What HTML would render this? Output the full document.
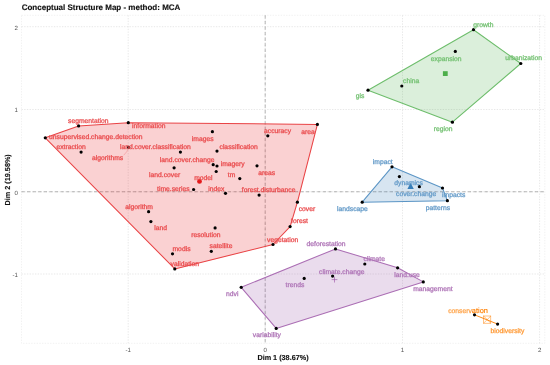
<!DOCTYPE html>
<html><head><meta charset="utf-8"><title>Conceptual Structure Map - method: MCA</title>
<style>
html,body{margin:0;padding:0;background:#fff;}
body{width:550px;height:365px;overflow:hidden;font-family:"Liberation Sans",Arial,Helvetica,sans-serif;}
svg{display:block;}
svg text{font-family:"Liberation Sans",Arial,Helvetica,sans-serif;text-rendering:geometricPrecision;}
.lab{font-size:6.76px;stroke-width:0.28px;}
.tick{font-size:6.1px;fill:#555;}
.ttl{font-size:8.0px;font-weight:bold;fill:#111;stroke:#111;stroke-width:0.15px;}
.ax{font-size:7.25px;font-weight:bold;fill:#111;stroke:#111;stroke-width:0.12px;}
</style></head><body>
<svg width="550" height="365" viewBox="0 0 550 365">
<rect x="0" y="0" width="550" height="365" fill="#ffffff"/>
<rect x="21.5" y="15.3" width="523.3" height="328.0" fill="none" stroke="#ebebeb" stroke-width="0.7" stroke-dasharray="1.35 1.35"/>
<line x1="128.2" y1="15.3" x2="128.2" y2="343.3" stroke="#dedede" stroke-width="0.7" stroke-dasharray="1.35 1.35"/>
<line x1="265.2" y1="15.3" x2="265.2" y2="343.3" stroke="#dedede" stroke-width="0.7" stroke-dasharray="1.35 1.35"/>
<line x1="402.5" y1="15.3" x2="402.5" y2="343.3" stroke="#dedede" stroke-width="0.7" stroke-dasharray="1.35 1.35"/>
<line x1="539.6" y1="15.3" x2="539.6" y2="343.3" stroke="#dedede" stroke-width="0.7" stroke-dasharray="1.35 1.35"/>
<line x1="21.5" y1="26.7" x2="544.8" y2="26.7" stroke="#dedede" stroke-width="0.7" stroke-dasharray="1.35 1.35"/>
<line x1="21.5" y1="109.5" x2="544.8" y2="109.5" stroke="#dedede" stroke-width="0.7" stroke-dasharray="1.35 1.35"/>
<line x1="21.5" y1="191.75" x2="544.8" y2="191.75" stroke="#dedede" stroke-width="0.7" stroke-dasharray="1.35 1.35"/>
<line x1="21.5" y1="274.0" x2="544.8" y2="274.0" stroke="#dedede" stroke-width="0.7" stroke-dasharray="1.35 1.35"/>
<line x1="21.5" y1="191.75" x2="544.8" y2="191.75" stroke="#a2a2a2" stroke-width="0.8" stroke-dasharray="3.2 2.38"/>
<line x1="265.2" y1="15.3" x2="265.2" y2="343.3" stroke="#a2a2a2" stroke-width="0.8" stroke-dasharray="3.2 2.38"/>
<polygon points="45.3,137.8 78.6,125.9 128.3,122.7 317.4,124.4 297.4,202.2 290.1,226.6 273,244.5 174.8,268.9" fill="#E41A1C" fill-opacity="0.2" stroke="#E94345" stroke-width="1.05" stroke-linejoin="round"/>
<polygon points="368.0,90.2 473.5,29.7 520.8,63.5 452.4,122.2" fill="#4DAF4A" fill-opacity="0.2" stroke="#6DBD6B" stroke-width="1.05" stroke-linejoin="round"/>
<polygon points="362.2,202.2 392,166.8 442.5,188 447.4,200.7" fill="#377EB8" fill-opacity="0.2" stroke="#5B95C5" stroke-width="1.05" stroke-linejoin="round"/>
<polygon points="241.2,287.3 335.5,248.9 397.6,267.8 423.3,281.9 276.2,328.4" fill="#984EA3" fill-opacity="0.2" stroke="#AB6EB4" stroke-width="1.05" stroke-linejoin="round"/>
<line x1="474.5" y1="314.8" x2="497.6" y2="324.1" stroke="#FF7F00" stroke-width="0.9"/>
<path d="M128.6 147.3 Q127.5 152 123.7 155.2" fill="none" stroke="#E41A1C" stroke-width="0.35" stroke-opacity="0.6"/>
<circle cx="199.5" cy="181.4" r="2.4" fill="#E41A1C"/>
<rect x="442.9" y="71.2" width="4.8" height="4.8" fill="#4DAF4A"/>
<polygon points="410.6,182.7 407.4,188.9 413.8,188.9" fill="#377EB8"/>
<path d="M331.6 279.6H337.4M334.5 276.7V282.5" stroke="#984EA3" stroke-width="0.6" fill="none"/>
<g stroke="#FF7F00" stroke-width="0.55" stroke-opacity="0.85" fill="none"><rect x="483.6" y="316" width="7.2" height="7.2"/><path d="M483.6 316L490.8 323.2M490.8 316L483.6 323.2"/></g>
<circle cx="78.6" cy="125.9" r="1.6" fill="#000"/>
<circle cx="128.3" cy="122.7" r="1.6" fill="#000"/>
<circle cx="45.3" cy="137.8" r="1.6" fill="#000"/>
<circle cx="81.1" cy="152.1" r="1.6" fill="#000"/>
<circle cx="128.6" cy="147.3" r="1.6" fill="#000"/>
<circle cx="180.4" cy="152.1" r="1.6" fill="#000"/>
<circle cx="212.4" cy="131.7" r="1.6" fill="#000"/>
<circle cx="217" cy="151.1" r="1.6" fill="#000"/>
<circle cx="174.1" cy="167.8" r="1.6" fill="#000"/>
<circle cx="213.2" cy="164.7" r="1.6" fill="#000"/>
<circle cx="217" cy="166" r="1.6" fill="#000"/>
<circle cx="216.2" cy="171.5" r="1.6" fill="#000"/>
<circle cx="239.8" cy="178.6" r="1.6" fill="#000"/>
<circle cx="193.6" cy="189.5" r="1.6" fill="#000"/>
<circle cx="225.5" cy="193.3" r="1.6" fill="#000"/>
<circle cx="317.4" cy="124.4" r="1.6" fill="#000"/>
<circle cx="267.8" cy="135.8" r="1.6" fill="#000"/>
<circle cx="257" cy="165.8" r="1.6" fill="#000"/>
<circle cx="259.1" cy="195.1" r="1.6" fill="#000"/>
<circle cx="297.4" cy="202.2" r="1.6" fill="#000"/>
<circle cx="290.1" cy="226.6" r="1.6" fill="#000"/>
<circle cx="273" cy="244.5" r="1.6" fill="#000"/>
<circle cx="148.6" cy="211.7" r="1.6" fill="#000"/>
<circle cx="150.9" cy="221.6" r="1.6" fill="#000"/>
<circle cx="215.1" cy="227.9" r="1.6" fill="#000"/>
<circle cx="172.5" cy="253.8" r="1.6" fill="#000"/>
<circle cx="211.3" cy="251.3" r="1.6" fill="#000"/>
<circle cx="174.8" cy="268.9" r="1.6" fill="#000"/>
<circle cx="368.0" cy="90.2" r="1.6" fill="#000"/>
<circle cx="401.8" cy="86" r="1.6" fill="#000"/>
<circle cx="455.3" cy="51.4" r="1.6" fill="#000"/>
<circle cx="473.5" cy="29.7" r="1.6" fill="#000"/>
<circle cx="520.8" cy="63.5" r="1.6" fill="#000"/>
<circle cx="452.4" cy="122.2" r="1.6" fill="#000"/>
<circle cx="392" cy="166.8" r="1.6" fill="#000"/>
<circle cx="399.4" cy="176.6" r="1.6" fill="#000"/>
<circle cx="419.4" cy="186.7" r="1.6" fill="#000"/>
<circle cx="442.5" cy="188" r="1.6" fill="#000"/>
<circle cx="447.4" cy="200.7" r="1.6" fill="#000"/>
<circle cx="362.2" cy="202.2" r="1.6" fill="#000"/>
<circle cx="335.5" cy="248.9" r="1.6" fill="#000"/>
<circle cx="364.8" cy="264" r="1.6" fill="#000"/>
<circle cx="397.6" cy="267.8" r="1.6" fill="#000"/>
<circle cx="423.3" cy="281.9" r="1.6" fill="#000"/>
<circle cx="332.6" cy="276.1" r="1.6" fill="#000"/>
<circle cx="304.2" cy="278.4" r="1.6" fill="#000"/>
<circle cx="241.2" cy="287.3" r="1.6" fill="#000"/>
<circle cx="276.2" cy="328.4" r="1.6" fill="#000"/>
<circle cx="474.5" cy="314.8" r="1.6" fill="#000"/>
<circle cx="497.6" cy="324.1" r="1.6" fill="#000"/>
<text class="lab" x="68" y="123.3" fill="#EA4C4E" stroke="#EA4C4E">segmentation</text>
<text class="lab" x="132.1" y="127.6" fill="#EA4C4E" stroke="#EA4C4E">information</text>
<text class="lab" x="49.1" y="138.9" fill="#EA4C4E" stroke="#EA4C4E">unsupervised.change.detection</text>
<text class="lab" x="56.4" y="149.0" fill="#EA4C4E" stroke="#EA4C4E">extraction</text>
<text class="lab" x="92.1" y="159.8" fill="#EA4C4E" stroke="#EA4C4E">algorithms</text>
<text class="lab" x="119.9" y="149.0" fill="#EA4C4E" stroke="#EA4C4E">land.cover.classification</text>
<text class="lab" x="191.8" y="140.7" fill="#EA4C4E" stroke="#EA4C4E">images</text>
<text class="lab" x="219.5" y="148.5" fill="#EA4C4E" stroke="#EA4C4E">classification</text>
<text class="lab" x="159.8" y="162.1" fill="#EA4C4E" stroke="#EA4C4E">land.cover.change</text>
<text class="lab" x="220.7" y="165.9" fill="#EA4C4E" stroke="#EA4C4E">imagery</text>
<text class="lab" x="149" y="176.7" fill="#EA4C4E" stroke="#EA4C4E">land.cover</text>
<text class="lab" x="194.2" y="180.0" fill="#EA4C4E" stroke="#EA4C4E">model</text>
<text class="lab" x="227.8" y="176.7" fill="#EA4C4E" stroke="#EA4C4E">tm</text>
<text class="lab" x="157" y="190.6" fill="#EA4C4E" stroke="#EA4C4E">time.series</text>
<text class="lab" x="208.2" y="190.6" fill="#EA4C4E" stroke="#EA4C4E">index</text>
<text class="lab" x="264" y="133.1" fill="#EA4C4E" stroke="#EA4C4E">accuracy</text>
<text class="lab" x="301.3" y="133.9" fill="#EA4C4E" stroke="#EA4C4E">area</text>
<text class="lab" x="258.2" y="174.9" fill="#EA4C4E" stroke="#EA4C4E">areas</text>
<text class="lab" x="241.8" y="191.9" fill="#EA4C4E" stroke="#EA4C4E">forest.disturbance</text>
<text class="lab" x="125.2" y="208.6" fill="#EA4C4E" stroke="#EA4C4E">algorithm</text>
<text class="lab" x="154.2" y="230.3" fill="#EA4C4E" stroke="#EA4C4E">land</text>
<text class="lab" x="191.2" y="237.1" fill="#EA4C4E" stroke="#EA4C4E">resolution</text>
<text class="lab" x="172.5" y="250.9" fill="#EA4C4E" stroke="#EA4C4E">modis</text>
<text class="lab" x="209.6" y="248.4" fill="#EA4C4E" stroke="#EA4C4E">satellite</text>
<text class="lab" x="170.5" y="266.3" fill="#EA4C4E" stroke="#EA4C4E">validation</text>
<text class="lab" x="298.7" y="211.4" fill="#EA4C4E" stroke="#EA4C4E">cover</text>
<text class="lab" x="291.1" y="223.2" fill="#EA4C4E" stroke="#EA4C4E">forest</text>
<text class="lab" x="267" y="241.8" fill="#EA4C4E" stroke="#EA4C4E">vegetation</text>
<text class="lab" x="473.2" y="26.8" fill="#74C172" stroke="#74C172">growth</text>
<text class="lab" x="430.8" y="60.8" fill="#74C172" stroke="#74C172">expansion</text>
<text class="lab" x="505.2" y="60.3" fill="#74C172" stroke="#74C172">urbanization</text>
<text class="lab" x="403" y="83.0" fill="#74C172" stroke="#74C172">china</text>
<text class="lab" x="355.7" y="98.2" fill="#74C172" stroke="#74C172">gis</text>
<text class="lab" x="433.8" y="130.9" fill="#74C172" stroke="#74C172">region</text>
<text class="lab" x="372.8" y="163.8" fill="#639AC8" stroke="#639AC8">impact</text>
<text class="lab" x="394.3" y="185.2" fill="#639AC8" stroke="#639AC8">dynamics</text>
<text class="lab" x="396" y="196.1" fill="#639AC8" stroke="#639AC8">cover.change</text>
<text class="lab" x="442.1" y="197.3" fill="#639AC8" stroke="#639AC8">impacts</text>
<text class="lab" x="425.7" y="209.9" fill="#639AC8" stroke="#639AC8">patterns</text>
<text class="lab" x="337" y="210.9" fill="#639AC8" stroke="#639AC8">landscape</text>
<text class="lab" x="306.5" y="245.7" fill="#AF75B7" stroke="#AF75B7">deforestation</text>
<text class="lab" x="363.6" y="260.9" fill="#AF75B7" stroke="#AF75B7">climate</text>
<text class="lab" x="319.1" y="273.5" fill="#AF75B7" stroke="#AF75B7">climate.change</text>
<text class="lab" x="394.3" y="277.0" fill="#AF75B7" stroke="#AF75B7">land.use</text>
<text class="lab" x="413.2" y="291.1" fill="#AF75B7" stroke="#AF75B7">management</text>
<text class="lab" x="285.6" y="287.1" fill="#AF75B7" stroke="#AF75B7">trends</text>
<text class="lab" x="226.1" y="296.0" fill="#AF75B7" stroke="#AF75B7">ndvi</text>
<text class="lab" x="252.8" y="337.1" fill="#AF75B7" stroke="#AF75B7">variability</text>
<text class="lab" x="490.6" y="333.3" fill="#FF9B38" stroke="#FF9B38">biodiversity</text>
<text class="lab" x="448.2" y="313.2" fill="#FFA54C" stroke="#FFA54C">conserv<tspan font-size="7.4px" fill="#FF7F00" stroke="#FF7F00" stroke-width="0.15">ation</tspan></text>
<text class="tick" x="17.8" y="29.5" text-anchor="end">2</text>
<text class="tick" x="17.8" y="112.3" text-anchor="end">1</text>
<text class="tick" x="17.8" y="194.6" text-anchor="end">0</text>
<text class="tick" x="17.8" y="276.8" text-anchor="end">-1</text>
<text class="tick" x="128.2" y="351.7" text-anchor="middle">-1</text>
<text class="tick" x="265.2" y="351.7" text-anchor="middle">0</text>
<text class="tick" x="402.5" y="351.7" text-anchor="middle">1</text>
<text class="tick" x="539.6" y="351.7" text-anchor="middle">2</text>
<text class="ttl" x="21.7" y="9.6">Conceptual Structure Map - method: MCA</text>
<text class="ax" x="283" y="360" text-anchor="middle">Dim 1 (38.67%)</text>
<text class="ax" transform="translate(9.5,179.8) rotate(-90)" text-anchor="middle">Dim 2 (19.58%)</text>
</svg>
</body></html>
